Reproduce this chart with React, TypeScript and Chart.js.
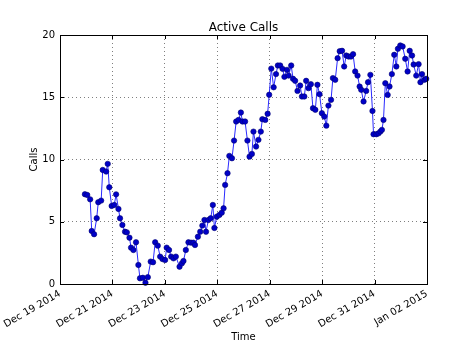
import React, { useEffect, useRef } from "react";
import { Chart, registerables } from "chart.js";

Chart.register(...registerables);

// Time in days since Dec 19 2014 00:00
const times = [
  0.95, 1.04, 1.15, 1.21, 1.30, 1.40, 1.46, 1.57, 1.63, 1.76, 1.82, 1.88, 1.97, 2.07, 2.14, 2.23,
  2.29, 2.38, 2.48, 2.55, 2.65, 2.71, 2.80, 2.90, 2.99, 3.05, 3.16, 3.26, 3.35, 3.46, 3.55, 3.63,
  3.73, 3.82, 3.91, 4.01, 4.07, 4.16, 4.24, 4.33, 4.42, 4.56, 4.65, 4.71, 4.80, 4.90, 5.00, 5.09,
  5.15, 5.26, 5.35, 5.43, 5.51, 5.57, 5.66, 5.75, 5.83, 5.89, 5.98, 6.08, 6.17, 6.24, 6.30, 6.39,
  6.46, 6.56, 6.64, 6.72, 6.81, 6.90, 6.96, 7.06, 7.15, 7.23, 7.32, 7.38, 7.48, 7.57, 7.66, 7.72,
  7.83, 7.92, 7.98, 8.06, 8.15, 8.24, 8.31, 8.40, 8.49, 8.56, 8.66, 8.72, 8.82, 8.89, 8.97, 9.06,
  9.16, 9.23, 9.32, 9.39, 9.48, 9.57, 9.65, 9.74, 9.82, 9.90, 9.99, 10.08, 10.16, 10.24, 10.34, 10.41,
  10.50, 10.59, 10.67, 10.76, 10.84, 10.92, 11.01, 11.10, 11.18, 11.26, 11.35, 11.43, 11.49, 11.58, 11.68, 11.75,
  11.84, 11.92, 11.96, 12.07, 12.15, 12.22, 12.28, 12.34, 12.41, 12.50, 12.57, 12.66, 12.75, 12.83, 12.89, 12.98,
  13.07, 13.17, 13.26, 13.34, 13.43, 13.49, 13.59, 13.68, 13.75, 13.81, 13.90, 13.97,
];

const calls = [
  7.21, 7.15, 6.8, 4.26, 4.0, 5.28, 6.57, 6.7, 9.16, 9.03, 9.65, 7.77, 6.27, 6.35, 7.2, 6.03,
  5.28, 4.74, 4.2, 4.15, 3.72, 2.92, 2.73, 3.35, 1.53, 0.46, 0.5, 0.1, 0.55, 1.8, 1.75, 3.35,
  3.08, 2.2, 2.0, 1.93, 2.92, 2.73, 2.2, 2.06, 2.2, 1.39, 1.66, 1.85, 2.73, 3.35, 3.32, 3.32,
  3.13, 3.8, 4.2, 4.69, 5.14, 4.2, 5.14, 5.28, 6.35, 4.5, 5.41, 5.55, 5.73, 6.08, 7.96, 8.9,
  10.29, 10.1, 11.52, 13.05, 13.18, 13.77, 13.05, 13.05, 11.52, 10.23, 10.45, 12.24, 11.04, 11.58, 12.24, 13.24,
  13.18, 13.67, 15.2, 17.3, 15.8, 16.86, 17.55, 17.55, 17.28, 16.64, 17.2, 16.74, 17.55, 16.48, 16.32, 15.51,
  15.94, 15.06, 15.06, 16.32, 15.73, 16.05, 14.12, 13.99, 16.0, 15.25, 13.72, 13.45, 12.72, 14.33, 14.79, 16.54,
  16.4, 18.14, 18.7, 18.73, 17.47, 18.35, 18.27, 18.27, 18.46, 17.07, 16.74, 15.86, 15.6, 14.66, 15.51, 16.21,
  16.8, 13.9, 12.03, 12.03, 12.1, 12.24, 12.38, 13.18, 16.13, 15.19, 15.86, 16.86, 18.41, 17.47, 18.89, 19.16,
  19.08, 18.09, 17.07, 18.73, 18.35, 17.63, 16.74, 17.66, 16.21, 16.86, 16.4, 16.48,
];

const xTickLabels = [
  "Dec 19 2014", "Dec 21 2014", "Dec 23 2014", "Dec 25 2014",
  "Dec 27 2014", "Dec 29 2014", "Dec 31 2014", "Jan 02 2015",
];

const chartTitle = "Active Calls";
const xTitle = "Time";
const yTitle = "Calls";

const FONT = "'DejaVu Sans', sans-serif";

const framePlugin = {
  id: "frame",
  afterDraw(chart: any) {
    const { ctx, chartArea } = chart;
    const { left, right, top, bottom } = chartArea;
    ctx.save();
    ctx.strokeStyle = "#000";
    ctx.lineWidth = 1;
    ctx.strokeRect(Math.round(left) + 0.5, Math.round(top) + 0.5, Math.round(right - left), Math.round(bottom - top));
    const xs = chart.scales.x;
    const ys = chart.scales.y;
    ctx.beginPath();
    xs.ticks.forEach((t: any) => {
      const px = Math.round(xs.getPixelForValue(t.value)) + 0.5;
      ctx.moveTo(px, bottom);
      ctx.lineTo(px, bottom - 4);
      ctx.moveTo(px, top);
      ctx.lineTo(px, top + 4);
    });
    ys.ticks.forEach((t: any) => {
      const py = Math.round(ys.getPixelForValue(t.value)) + 0.5;
      ctx.moveTo(left, py);
      ctx.lineTo(left + 4, py);
      ctx.moveTo(right, py);
      ctx.lineTo(right - 4, py);
    });
    ctx.stroke();
    ctx.fillStyle = "#000";
    ctx.font = `12px ${FONT}`;
    ctx.textAlign = "center";
    ctx.textBaseline = "alphabetic";
    ctx.fillText(chartTitle, (left + right) / 2, top - 4);
    ctx.restore();
  },
};

export default function App() {
  const ref = useRef<HTMLCanvasElement>(null);
  useEffect(() => {
    document.body.style.margin = "0";
    const canvas = ref.current;
    if (!canvas) return;
    const data = times.map((t, i) => ({ x: t, y: calls[i] }));
    const chart = new Chart(canvas, {
      type: "line",
      data: {
        datasets: [
          {
            data,
            borderColor: "#2a2aff",
            borderWidth: 1,
            pointRadius: 2.7,
            pointBackgroundColor: "#0000c8",
            pointBorderColor: "#000070",
            pointBorderWidth: 0.6,
            tension: 0,
            clip: false,
          } as any,
        ],
      },
      options: {
        responsive: false,
        animation: false,
        layout: { padding: { left: 0, right: 47, top: 35, bottom: 0 } },
        plugins: {
          legend: { display: false },
          tooltip: { enabled: false },
          title: { display: false },
        },
        scales: {
          x: {
            type: "linear",
            min: 0,
            max: 14,
            afterFit: (s: any) => {
              s.height = 71;
            },
            ticks: {
              stepSize: 2,
              autoSkip: false,
              maxRotation: 30,
              minRotation: 30,
              color: "#000",
              padding: 4,
              font: { family: FONT, size: 10 },
              callback: (v: any) => xTickLabels[Math.round(Number(v) / 2)] ?? "",
            },
            grid: { color: "rgba(0,0,0,0.5)", lineWidth: 1, drawTicks: false },
            border: { display: false, dash: [1, 3] },
            title: {
              display: true,
              text: xTitle,
              color: "#000",
              font: { family: FONT, size: 10 },
              padding: { top: 0, bottom: 12 },
            },
          },
          y: {
            min: 0,
            max: 20,
            afterFit: (s: any) => {
              s.width = 60;
            },
            ticks: {
              stepSize: 5,
              color: "#000",
              padding: 5,
              font: { family: FONT, size: 10 },
            },
            grid: { color: "rgba(0,0,0,0.5)", lineWidth: 1, drawTicks: false },
            border: { display: false, dash: [1, 3] },
            title: {
              display: true,
              text: yTitle,
              color: "#000",
              font: { family: FONT, size: 10 },
              padding: { top: 28, bottom: 0 },
            },
          },
        },
      } as any,
      plugins: [framePlugin],
    });
    return () => chart.destroy();
  }, []);
  return (
    <div style={{ width: 474, height: 355 }}>
      <canvas ref={ref} width={474} height={355} />
    </div>
  );
}
